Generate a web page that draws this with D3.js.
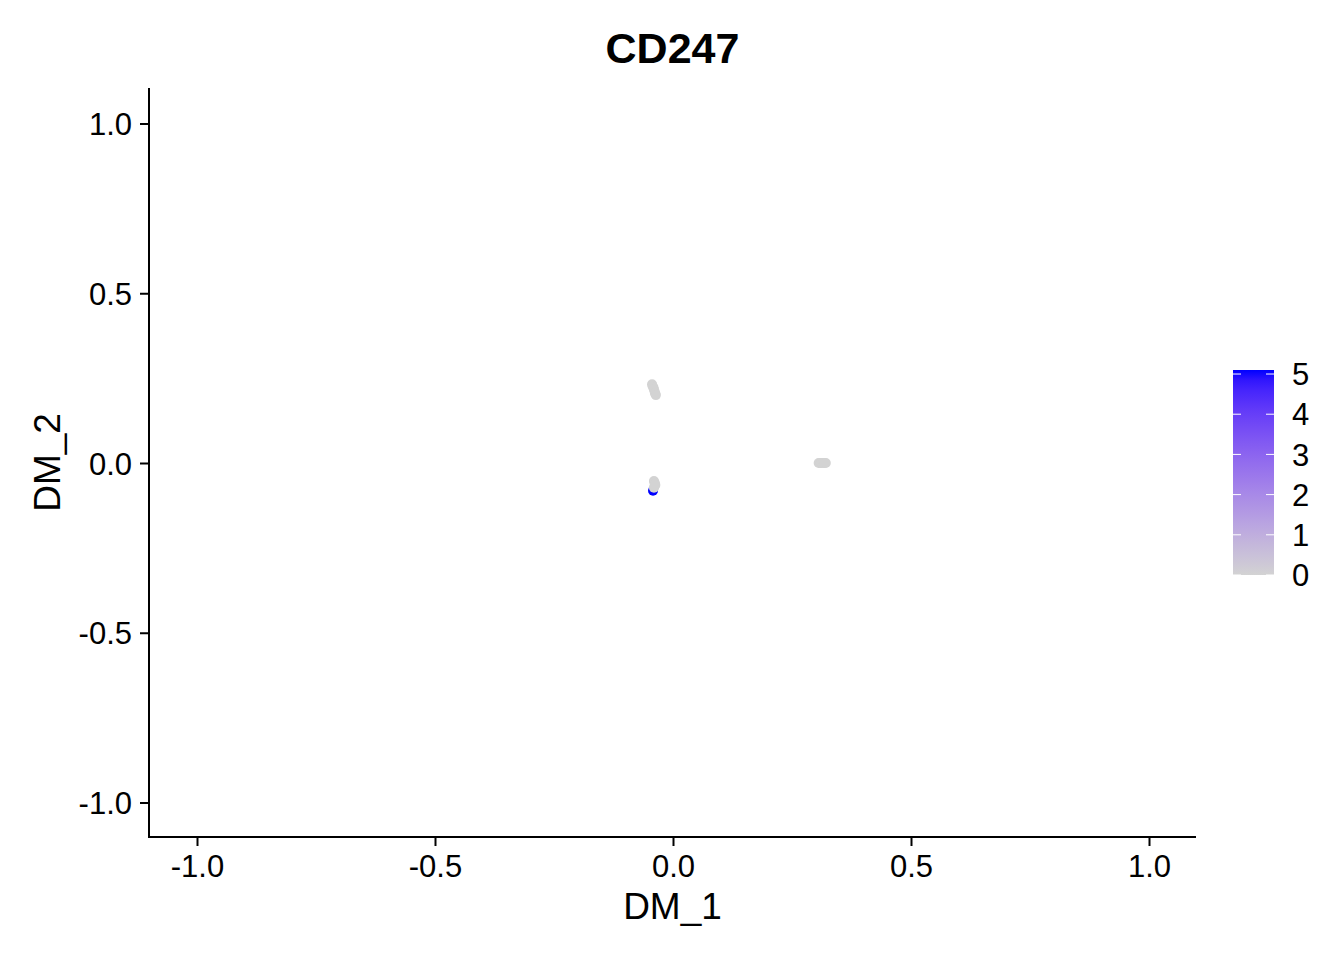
<!DOCTYPE html>
<html>
<head>
<meta charset="utf-8">
<script src="https://cdn.jsdelivr.net/npm/d3@7"></script>
<style>
  body { margin: 0; background: #fff; }
  text { font-family: "Liberation Sans", Arial, sans-serif; }
</style>
</head>
<body>
<div id="chart"></div>
<script>
// --- data --------------------------------------------------------------------
const featureName = 'CD247';
// cell coordinates on the diffusion map and their expression (drawn in this order)
const cellX = [-0.042, -0.044, -0.043, -0.041, -0.040, -0.039, -0.038, -0.037, -0.036,
               -0.040, -0.039, -0.038, -0.037, -0.039, -0.040,
               0.306, 0.309, 0.312, 0.315, 0.318, 0.321];
const cellY = [-0.082, 0.232, 0.227, 0.222, 0.217, 0.212, 0.207, 0.203, 0.200,
               -0.053, -0.057, -0.061, -0.065, -0.069, -0.073,
               0.0, 0.0, 0.0, 0.0, 0.0, 0.0];
const cellExpr = [5.1, 0, 0, 0, 0, 0, 0, 0, 0,
                  0, 0, 0, 0, 0, 0,
                  0, 0, 0, 0, 0, 0];
const axisTicks = [-1.0, -0.5, 0.0, 0.5, 1.0];
const legendTicks = [0, 1, 2, 3, 4, 5];

//chart dimensions
const width = 1344;
const height = 960;
const panel = {left: 149, right: 1196, top: 88, bottom: 837};

const svg = d3.select('#chart')
    .append('svg')
        .attr('width', width)
        .attr('height', height);

const x = d3.scaleLinear()
    .domain([-1.1, 1.1])
    .range([673 - 1.1 * 476, 673 + 1.1 * 476]);

const y = d3.scaleLinear()
    .domain([-1.1, 1.1])
    .range([463 + 1.1 * 339.5, 463 - 1.1 * 339.5]);

const exprMax = d3.max(cellExpr);
const color = d3.scaleLinear()
    .domain([0, exprMax])
    .range(['lightgrey', 'blue'])
    .interpolate(d3.interpolateLab);

// --- title -------------------------------------------------------------------
svg.append('text')
    .attr('x', (panel.left + panel.right) / 2)
    .attr('y', 63)
    .attr('text-anchor', 'middle')
    .style('font-size', '43px')
    .style('font-weight', 'bold')
    .text(featureName);

// --- axes --------------------------------------------------------------------
function styleAxis(g) {
    g.select('.domain').remove();
    g.selectAll('.tick line').attr('stroke', '#000').attr('stroke-width', 2);
    g.selectAll('.tick text')
        .attr('fill', '#000')
        .style('font-size', '31px')
        .style('font-family', '"Liberation Sans", Arial, sans-serif');
}

// plain hyphen for negatives, like R does
const fmt = d => d3.format('.1f')(d).replace('\u2212', '-');

svg.append('g')
    .attr('transform', `translate(0,${panel.bottom})`)
    .call(d3.axisBottom(x).tickValues(axisTicks).tickFormat(fmt).tickSize(9).tickPadding(9))
    .call(styleAxis);

svg.append('g')
    .attr('transform', `translate(${panel.left},0)`)
    .call(d3.axisLeft(y).tickValues(axisTicks).tickFormat(fmt).tickSize(9).tickPadding(8))
    .call(styleAxis)
    .selectAll('.tick text').attr('dy', '0.36em');

// axis lines
svg.append('line')
    .attr('x1', panel.left).attr('x2', panel.left)
    .attr('y1', panel.top).attr('y2', panel.bottom + 1)
    .attr('stroke', '#000').attr('stroke-width', 2);
svg.append('line')
    .attr('x1', panel.left - 1).attr('x2', panel.right)
    .attr('y1', panel.bottom).attr('y2', panel.bottom)
    .attr('stroke', '#000').attr('stroke-width', 2);

// axis titles
svg.append('text')
    .attr('x', (panel.left + panel.right) / 2)
    .attr('y', 919)
    .attr('text-anchor', 'middle')
    .style('font-size', '37px')
    .text('DM_1');

svg.append('text')
    .attr('transform', `translate(60,${(panel.top + panel.bottom) / 2}) rotate(-90)`)
    .attr('text-anchor', 'middle')
    .style('font-size', '37px')
    .text('DM_2');

// --- points ------------------------------------------------------------------
const cells = cellX.map((d, i) => ({x: d, y: cellY[i], expr: cellExpr[i]}));

svg.append('g')
    .selectAll('circle')
    .data(cells)
    .join('circle')
        .attr('cx', d => x(d.x))
        .attr('cy', d => y(d.y))
        .attr('r', 5)
        .attr('fill', d => color(d.expr));

// --- colour bar legend -------------------------------------------------------
const bar = {x: 1233, w: 41, top: 370, bottom: 575};
const legY = d3.scaleLinear()
    .domain([0, exprMax])
    .range([bar.bottom, bar.top]);

const grad = svg.append('defs')
    .append('linearGradient')
        .attr('id', 'exprGrad')
        .attr('x1', 0).attr('y1', 1).attr('x2', 0).attr('y2', 0);

d3.range(0, 1.0001, 0.05).forEach(t => {
    grad.append('stop')
        .attr('offset', t)
        .attr('stop-color', color(t * exprMax));
});

svg.append('rect')
    .attr('x', bar.x)
    .attr('y', bar.top)
    .attr('width', bar.w)
    .attr('height', bar.bottom - bar.top)
    .attr('fill', 'url(#exprGrad)');

const legG = svg.append('g');
legendTicks.forEach(v => {
    legG.append('line')
        .attr('x1', bar.x).attr('x2', bar.x + 8)
        .attr('y1', legY(v)).attr('y2', legY(v))
        .attr('stroke', 'white').attr('stroke-width', 1);
    legG.append('line')
        .attr('x1', bar.x + bar.w - 8).attr('x2', bar.x + bar.w)
        .attr('y1', legY(v)).attr('y2', legY(v))
        .attr('stroke', 'white').attr('stroke-width', 1);
    legG.append('text')
        .attr('x', 1292)
        .attr('y', legY(v))
        .attr('dy', '0.36em')
        .style('font-size', '31px')
        .text(v);
});
</script>
</body>
</html>
